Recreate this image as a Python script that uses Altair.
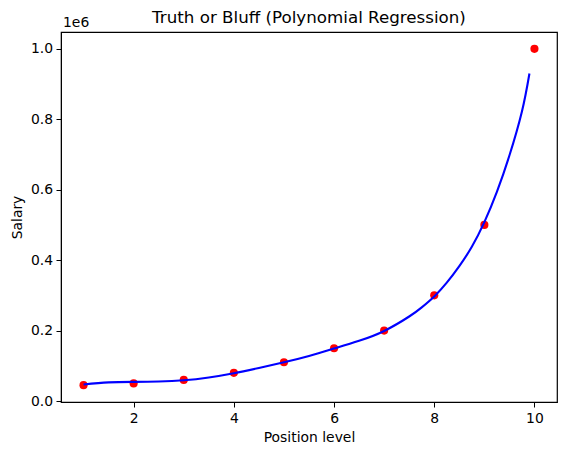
import altair as alt
import pandas as pd

# Scatter data (Position level vs Salary)
levels = [1, 2, 3, 4, 5, 6, 7, 8, 9, 10]
salaries = [45000, 50000, 60000, 80000, 110000, 150000, 200000, 300000, 500000, 1000000]

# Regression curve
curve_x = [1, 1.5, 2, 2.5, 3, 3.5, 4, 4.5, 5, 5.5, 6, 6.5, 7, 7.5, 7.75, 8,
           8.25, 8.5, 8.75, 9, 9.25, 9.5, 9.75, 9.9]
curve_y = [47000, 53000, 54500, 55500, 59000, 67000, 79000, 94000, 110000, 128000,
           149000, 171000, 199000, 240000, 266000, 297000, 336000, 383000, 438000,
           508000, 594000, 697000, 822000, 930000]

y_ticks = [0, 200000, 400000, 600000, 800000, 1000000]
x_ticks = [2, 4, 6, 8, 10]

title_text = "Truth or Bluff (Polynomial Regression)"

pts = pd.DataFrame({"level": levels, "salary": salaries})
crv = pd.DataFrame({"level": curve_x, "salary": curve_y})

FONT = "DejaVu Sans"

xscale = alt.Scale(domain=[0.55, 10.45], nice=False, zero=False)
yscale = alt.Scale(domain=[-2750, 1047750], nice=False, zero=False)

xaxis = alt.Axis(values=x_ticks, title="Position level", grid=False, format="d",
                 tickSize=5, tickColor="black", domainColor="black",
                 labelColor="black", labelFontSize=13.9, labelFont=FONT,
                 labelPadding=4.5, titleFont=FONT, titleFontSize=13.9,
                 titleFontWeight="normal", titleColor="black", titlePadding=5,
                 labelFlush=False)
yaxis = alt.Axis(values=y_ticks, title="Salary", grid=False,
                 labelExpr="format(datum.value/1000000, '.1f')",
                 tickSize=5, tickColor="black", domainColor="black",
                 labelColor="black", labelFontSize=13.9, labelFont=FONT,
                 labelPadding=3.5, titleFont=FONT, titleFontSize=13.9,
                 titleFontWeight="normal", titleColor="black", titlePadding=6,
                 labelFlush=False)

scatter = alt.Chart(pts).mark_circle(color="red", size=66, opacity=1).encode(
    x=alt.X("level:Q", scale=xscale, axis=xaxis),
    y=alt.Y("salary:Q", scale=yscale, axis=yaxis),
)

line = alt.Chart(crv).mark_line(color="blue", strokeWidth=2.1,
                                interpolate="natural").encode(
    x=alt.X("level:Q", scale=xscale),
    y=alt.Y("salary:Q", scale=yscale),
)

offset_label = alt.Chart(pd.DataFrame({"t": ["1e6"]})).mark_text(
    align="left", baseline="middle", fontSize=13.9, font=FONT, color="black"
).encode(x=alt.value(2), y=alt.value(-9), text="t:N")

title_mark = alt.Chart(pd.DataFrame({"t": [title_text]})).mark_text(
    align="center", baseline="middle", fontSize=16.7, font=FONT, color="black"
).encode(x=alt.value(248), y=alt.value(-14), text="t:N")

chart = alt.layer(scatter, line, offset_label, title_mark).properties(
    width=496, height=370,
    padding={"left": 53, "top": 24, "right": 2, "bottom": 45},
    autosize=alt.AutoSizeParams(type="none"),
    background="white",
).configure_view(stroke="black", strokeWidth=1.2)

chart.save("out.html", embed_options={"renderer": "svg", "actions": False})
